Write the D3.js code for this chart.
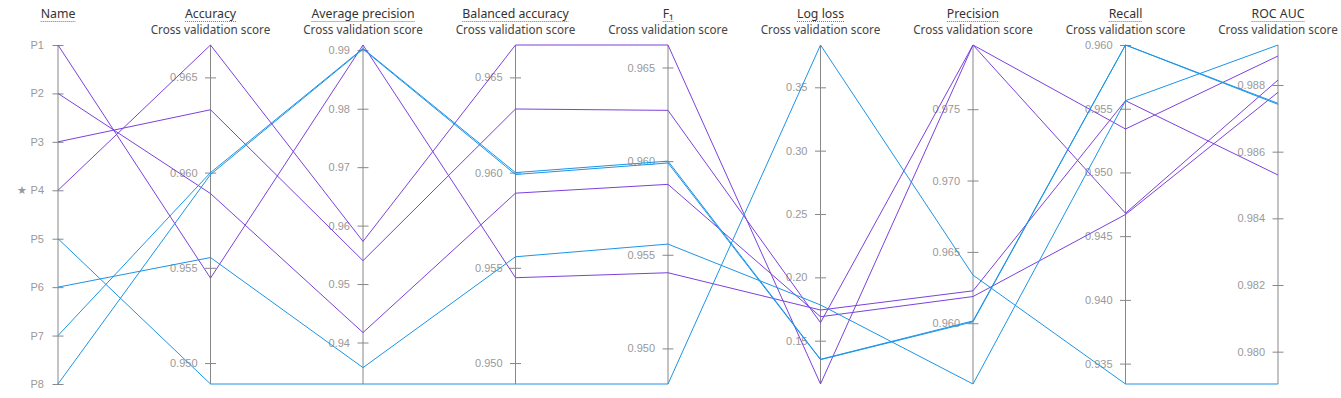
<!DOCTYPE html>
<html>
<head>
<meta charset="utf-8">
<script src="https://cdn.jsdelivr.net/npm/d3@7"></script>
<style>
  body { margin: 0; background: #fff; }
  svg { display: block; }
</style>
</head>
<body>
<div id="chart"></div>
<script>
// trial names (P4 is the starred one)
var names = ["P1", "P2", "P3", "P4", "P5", "P6", "P7", "P8"];
var starred = "P4";
var group = ["a", "a", "a", "a", "b", "b", "b", "b"];

// metric columns
var metrics = ["Accuracy", "Average precision", "Balanced accuracy", "F\u2081",
               "Log loss", "Precision", "Recall", "ROC AUC"];

// cross validation scores, one array per metric, in the order of names
var accuracy    = [0.95446, 0.9589, 0.9633, 0.9667, 0.9489, 0.95554, 0.9600, 0.9599];
var avgPrec     = [0.9909, 0.9417, 0.9540, 0.9573, 0.9329, 0.9357, 0.9903, 0.9902];
var balancedAcc = [0.95448, 0.95892, 0.96334, 0.9667, 0.9489, 0.95558, 0.9600, 0.9599];
var f1          = [0.95404, 0.95876, 0.96271, 0.9662, 0.9481, 0.95557, 0.9600, 0.9599];
var logLoss     = [0.1742, 0.1689, 0.1642, 0.1158, 0.3834, 0.1782, 0.1353, 0.1350];
var precision   = [0.96227, 0.96187, 0.9795, 0.9795, 0.96337, 0.95574, 0.96016, 0.96010];
var recall      = [0.95563, 0.9467, 0.95341, 0.9468, 0.9334, 0.95563, 0.9600, 0.9600];
var rocAuc      = [0.9853, 0.98778, 0.98887, 0.98815, 0.97903, 0.9892, 0.98745, 0.98742];

var values = [accuracy, avgPrec, balancedAcc, f1, logLoss, precision, recall, rocAuc];

var width = 1341, height = 398;
var yTop = 45, yBottom = 384;
var colors = {a: "#7c41dc", b: "#1d94e6"};

var svg = d3.select("#chart").append("svg")
    .attr("width", width)
    .attr("height", height);

var columns = ["Name"].concat(metrics);

var x = d3.scalePoint()
    .domain(columns)
    .range([58, 1278]);

var yName = d3.scalePoint()
    .domain(names)
    .range([yTop, yBottom]);

var yScales = {};
metrics.forEach(function(m, i) {
    yScales[m] = d3.scaleLinear()
        .domain(d3.extent(values[i]))
        .range([yBottom, yTop]);
});

var rows = names.map(function(n, i) {
    var r = {name: n, group: group[i]};
    metrics.forEach(function(m, j) { r[m] = values[j][i]; });
    return r;
});

// axes
function styleAxis(g) {
    g.select(".domain").attr("stroke", "#888").attr("stroke-width", 1);
    g.selectAll(".tick line").attr("stroke", "#888").attr("x2", 5.5).attr("x1", -5.5);
    g.selectAll(".tick text")
        .attr("x", -13)
        .attr("fill", "#999")
        .style("font-family", "'Liberation Sans', Arial, sans-serif")
        .style("font-size", "11px");
}

var nameAxis = svg.append("g")
    .attr("transform", "translate(" + x("Name") + ",0)")
    .call(d3.axisLeft(yName).tickSize(0).tickPadding(0)
        .tickFormat(function(d) { return d === starred ? "\u2605 " + d : d; }));
nameAxis.select(".domain").attr("d", "M0," + yTop + "V" + yBottom);
styleAxis(nameAxis);
nameAxis.selectAll(".tick text").attr("x", -14);

metrics.forEach(function(m) {
    var s = yScales[m];
    var g = svg.append("g")
        .attr("transform", "translate(" + x(m) + ",0)")
        .call(d3.axisLeft(s).ticks(5).tickSize(0).tickSizeOuter(0));
    g.select(".domain").attr("d", "M0," + yTop + "V" + yBottom);
    styleAxis(g);
});

// lines
var line = d3.line();
svg.append("g").attr("class", "lines")
  .selectAll("path")
  .data(rows)
  .enter().append("path")
    .attr("fill", "none")
    .attr("stroke", function(d) { return colors[d.group]; })
    .attr("stroke-width", 1)
    .attr("d", function(d) {
        var pts = [[x("Name"), yName(d.name)]];
        metrics.forEach(function(m) { pts.push([x(m), yScales[m](d[m])]); });
        return line(pts);
    });

// headers
var head = svg.append("g").attr("class", "headers")
  .selectAll("g")
  .data(columns)
  .enter().append("g")
    .attr("transform", function(d) { return "translate(" + x(d) + ",0)"; });

head.append("text")
    .attr("class", "title")
    .attr("y", 17.5)
    .attr("text-anchor", "middle")
    .attr("fill", "#333")
    .style("font-family", "'Noto Sans', sans-serif")
    .style("font-size", "12.3px")
    .text(function(d) { return d; });

head.append("text")
    .filter(function(d) { return d !== "Name"; })
    .attr("y", 33.5)
    .attr("text-anchor", "middle")
    .attr("fill", "#444")
    .style("font-family", "'Noto Sans', sans-serif")
    .style("font-size", "11.7px")
    .text("Cross validation score");

head.each(function() {
    var t = d3.select(this).select(".title");
    var w = t.node().getComputedTextLength();
    d3.select(this).append("line")
        .attr("x1", -w / 2).attr("x2", w / 2)
        .attr("y1", 21.5).attr("y2", 21.5)
        .attr("stroke", "#777")
        .attr("stroke-width", 1)
        .attr("stroke-dasharray", "1,1");
});
</script>
</body>
</html>
